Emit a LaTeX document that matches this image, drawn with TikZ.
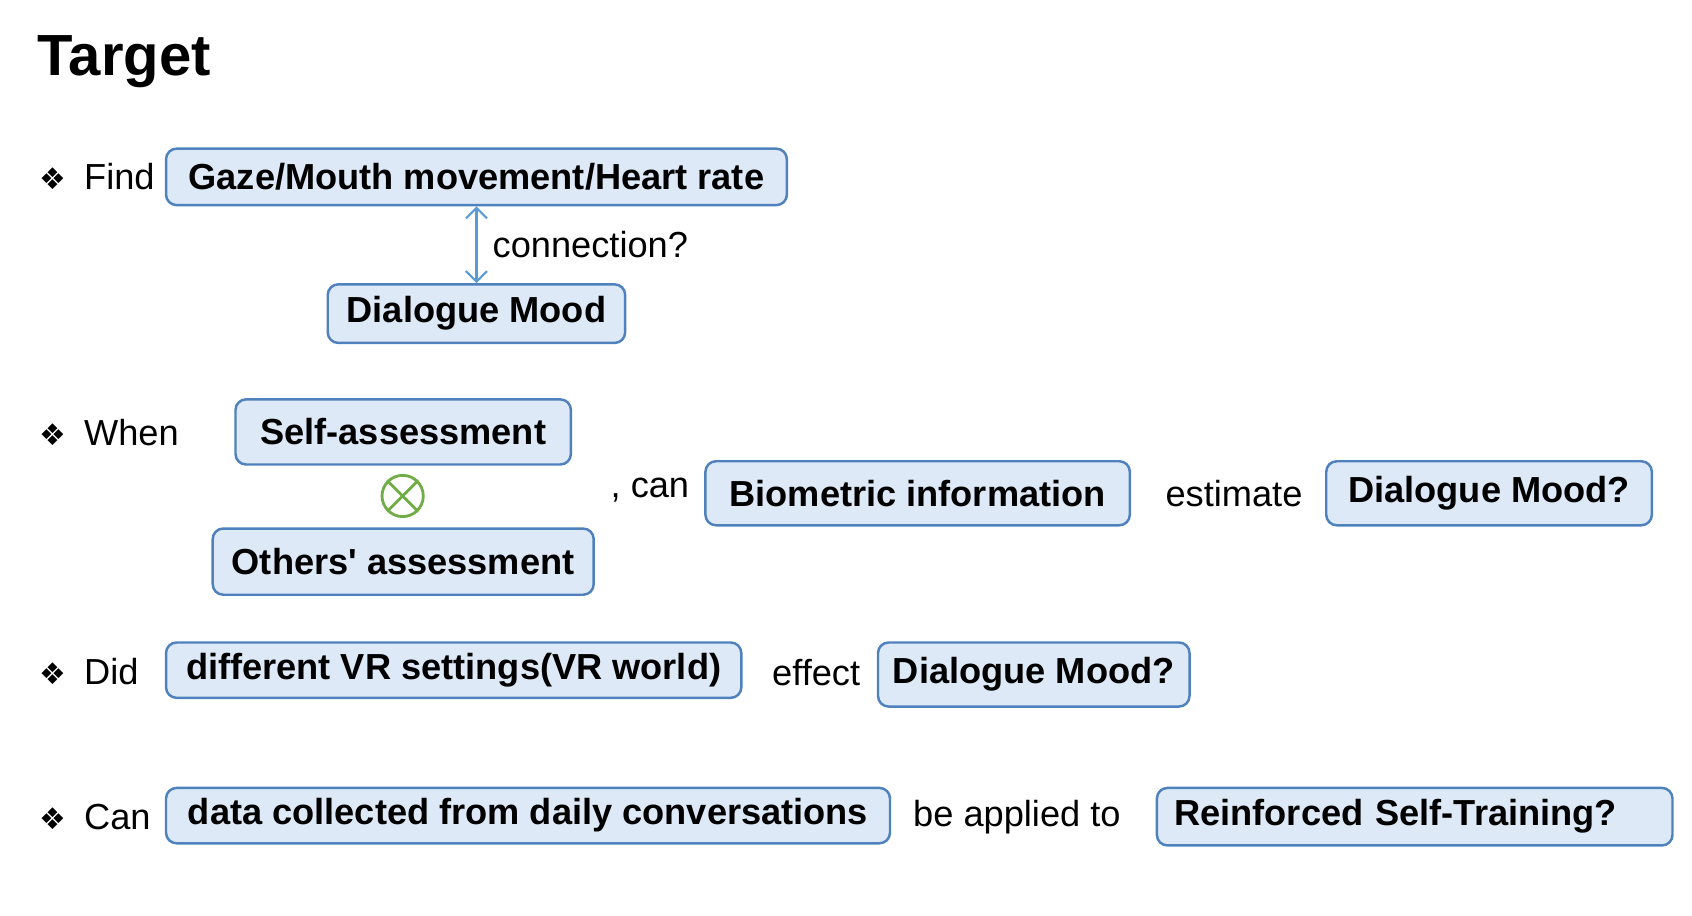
\documentclass[tikz,border=0pt]{standalone}
\usepackage{fontspec}
\setmainfont{Liberation Sans}
\newfontfamily\symf{DejaVu Sans}
\usetikzlibrary{arrows.meta}
\definecolor{boxfill}{HTML}{DDE9F6}
\definecolor{boxdraw}{HTML}{4F81BD}
\definecolor{arr}{HTML}{5B9BD5}
\definecolor{grn}{HTML}{70AD47}
\def\u{0.3087pt}
\newcommand{\bsym}{{\symf\fontsize{8.5}{10}\selectfont ❖}\hspace{5pt}}
\begin{document}
\begin{tikzpicture}[x=0.01085cm,y=-0.01085cm,
  box/.style={draw=boxdraw,fill=boxfill,rounded corners=3pt,line width=0.7pt,
    font=\fontsize{10.3}{12}\selectfont\bfseries,inner sep=0pt},
  txt/.style={font=\fontsize{10.3}{12}\selectfont,inner sep=0pt},
  bul/.style={font=\fontsize{10.3}{12}\selectfont,inner sep=0pt,anchor=west}]
\useasboundingbox (0,0) rectangle (1559,844);
\node[anchor=west,inner sep=0pt,font=\fontsize{16.5}{20}\selectfont\bfseries] (title) at (34,57) {Target};
% row 1
\node[bul] (b1) at (36,163) {\bsym Find};
\node[box,minimum width={572*\u},minimum height={52*\u}] (gaze) at (439,163) {Gaze/Mouth movement/Heart rate};
\node[box,minimum width={274*\u},minimum height={54*\u}] (dm1) at (439,289) {Dialogue Mood};
\draw[arr,line width=0.6pt,{Straight Barb[length=3pt]}-{Straight Barb[length=3pt]}] (gaze.south) -- node[txt,text=black,anchor=west,xshift={14*\u}] (conn) {connection?} (dm1.north);
% row 2
\node[bul] (b2) at (36,399) {\bsym When};
\node[box,minimum width={309*\u},minimum height={60*\u}] (self) at (371.5,398) {Self-assessment};
\node[draw=grn,line width=0.8pt,circle,minimum size={38*\u},inner sep=0pt] (ot) at (371,457) {};
\draw[grn,line width=0.8pt] (ot.north east) -- (ot.south west) (ot.north west) -- (ot.south east);
\node[box,minimum width={351*\u},minimum height={61*\u}] (oth) at (371.5,517.5) {Others\textquotesingle{} assessment};
\node[txt,anchor=west] (can) at (562,452) {, can};
\node[box,minimum width={391*\u},minimum height={59*\u}] (bio) at (845.5,454.5) {Biometric information};
\node[txt] (est) at (1137,455) {estimate};
\node[box,minimum width={300*\u},minimum height={59*\u}] (dm2) at (1372,454.5) {Dialogue Mood?};
% row 3
\node[bul] (b3) at (36,619) {\bsym Did};
\node[box,minimum width={530*\u},minimum height={51*\u}] (vr) at (418,617.5) {different VR settings(VR world)};
\node[txt] (eff) at (752,620) {effect};
\node[box,minimum width={287*\u},minimum height={59*\u}] (dm3) at (952.5,621.5) {Dialogue Mood?};
% row 4
\node[bul] (b4) at (36,753) {\bsym Can};
\node[box,minimum width={667*\u},minimum height={51*\u}] (data) at (486.5,751.5) {data collected from daily conversations};
\node[box,minimum width={475*\u},minimum height={53*\u},text width={443*\u},align=left] (rst) at (1303.5,752.5) {Reinforced Self-Training?};
\node[txt] (app) at (937,753) {be applied to};
\end{tikzpicture}
\end{document}
